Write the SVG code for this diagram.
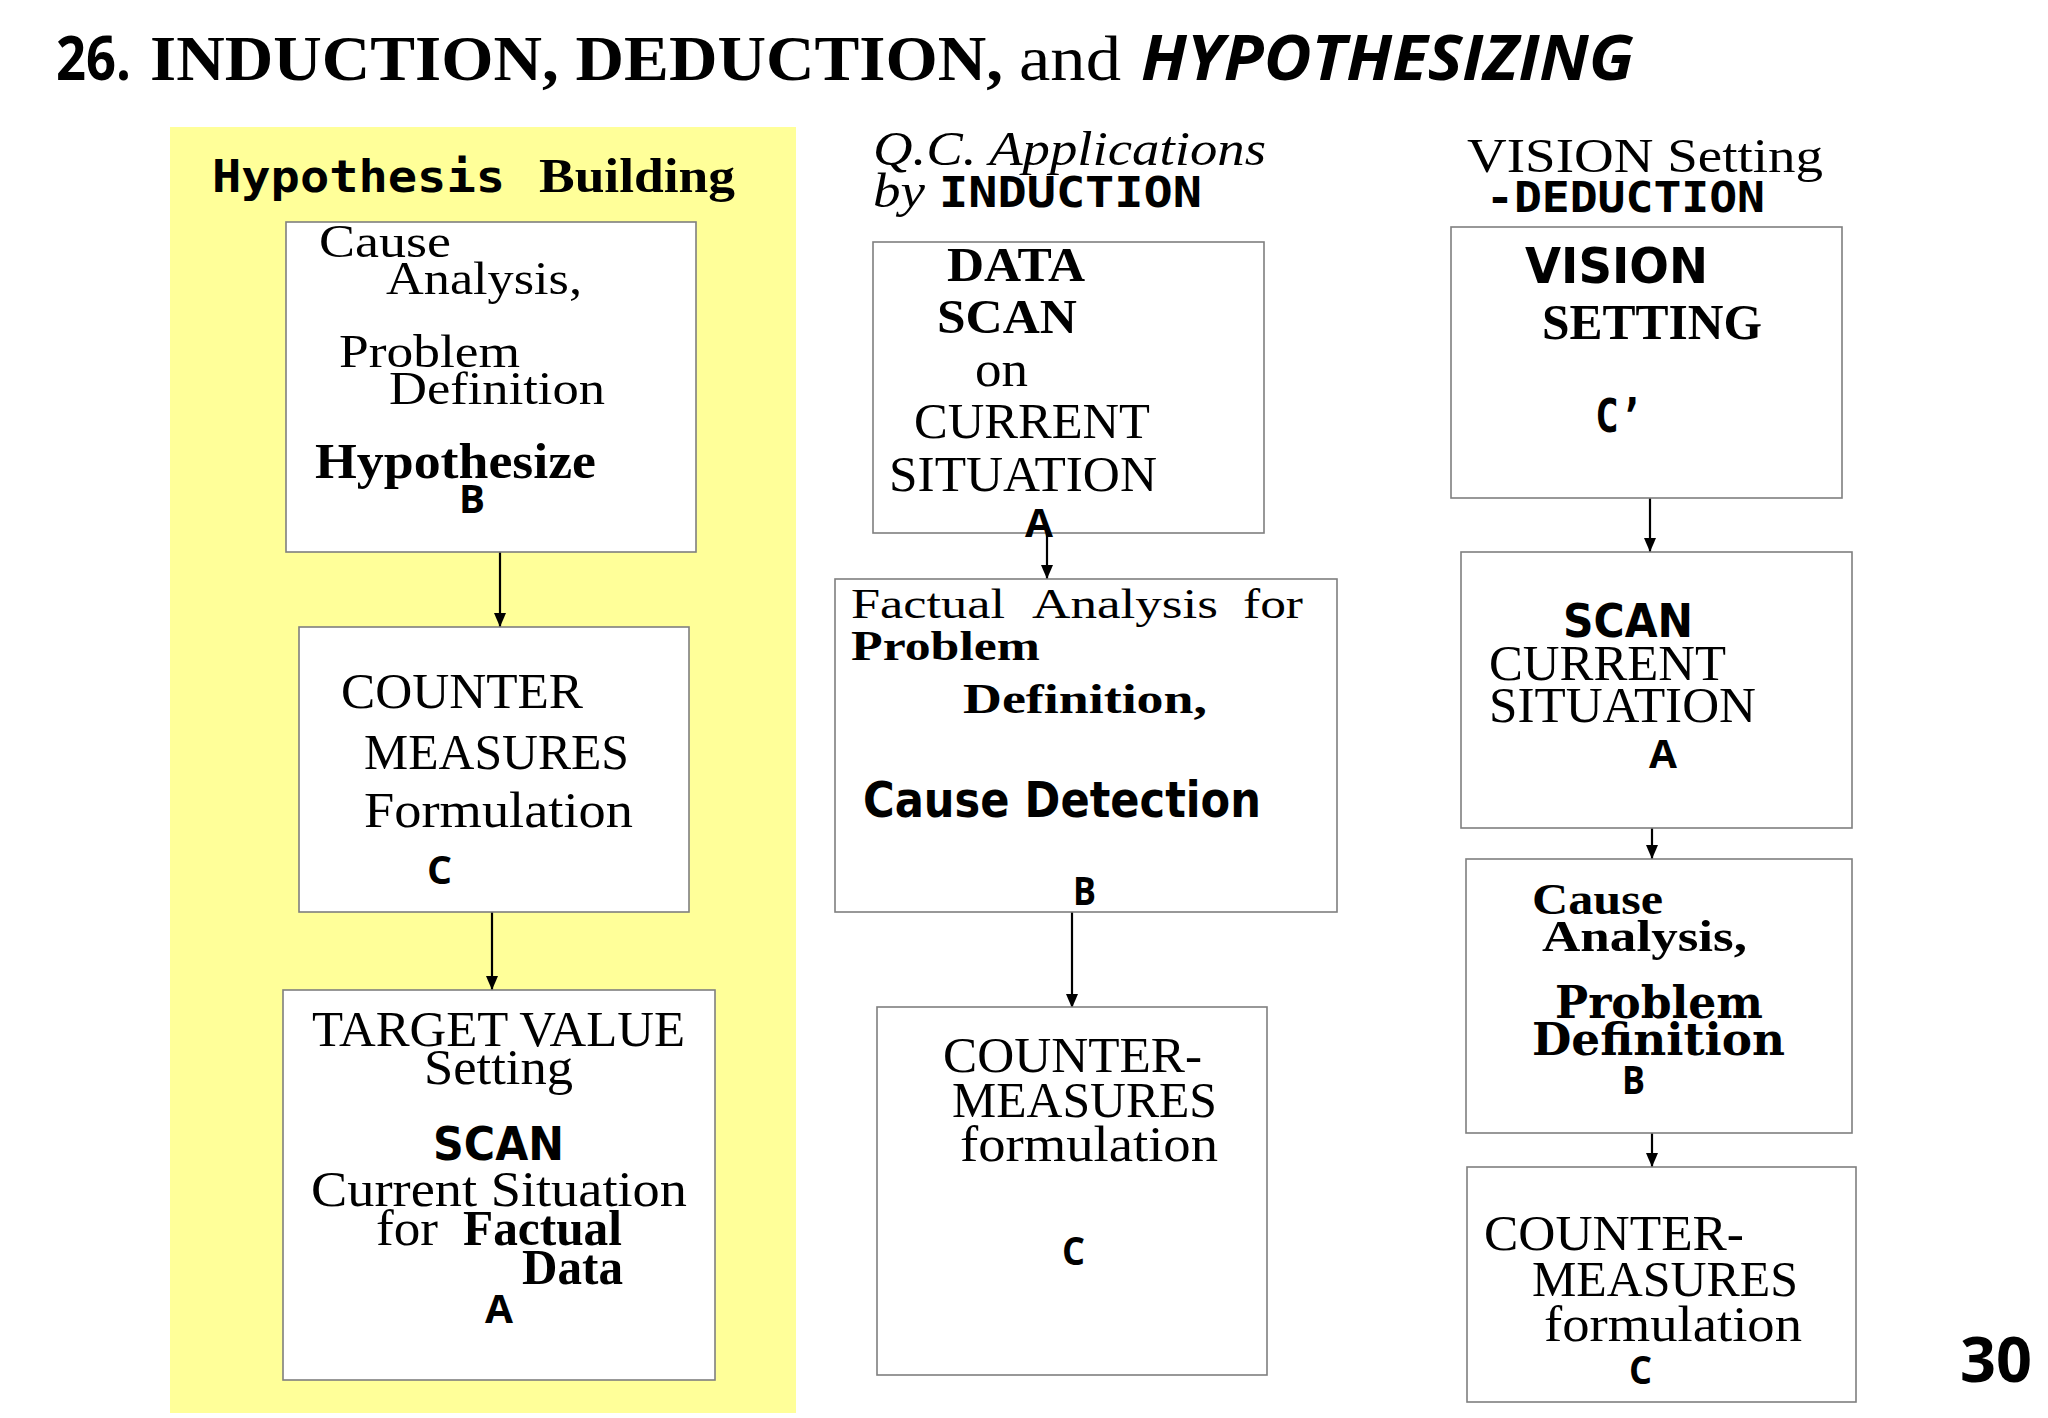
<svg xmlns="http://www.w3.org/2000/svg" width="2048" height="1418" viewBox="0 0 2048 1418">
<defs>
<style>
.box{fill:#ffffff;stroke:#7f7f7f;stroke-width:1.6}
.ln{stroke:#000;stroke-width:2.2;fill:none}
.sr{font-family:"Liberation Serif","Times New Roman",serif;font-size:50px;fill:#000}
.srb{font-family:"Liberation Serif","Times New Roman",serif;font-weight:bold;font-size:50px;fill:#000}
.sri{font-family:"Liberation Serif","Times New Roman",serif;font-style:italic;font-size:48px;fill:#000}
.hv{font-family:"DejaVu Serif","Liberation Serif",serif;font-weight:900;font-size:44px;fill:#000}
.sb{font-family:"DejaVu Sans","Liberation Sans",sans-serif;font-weight:bold;font-size:46px;fill:#000}
.os{font-family:"Open Sans","Liberation Sans",sans-serif;font-weight:bold;font-size:40px;fill:#000}
.mono{font-family:"DejaVu Sans Mono","Liberation Mono",monospace;font-weight:bold;font-size:44px;fill:#000}
</style>
<marker id="ah" viewBox="0 0 12 14" refX="6" refY="14" markerWidth="12" markerHeight="14" markerUnits="userSpaceOnUse" orient="0">
<path d="M0,0 L12,0 L6,14 z" fill="#000"/>
</marker>
</defs>
<rect width="2048" height="1418" fill="#ffffff"/>

<g id="title">
<text x="56" y="80" class="os" style="font-size:60px" textLength="75" lengthAdjust="spacingAndGlyphs">26.</text>
<text x="150" y="80" class="srb" style="font-size:64px" textLength="853" lengthAdjust="spacingAndGlyphs">INDUCTION, DEDUCTION,</text>
<text x="1019" y="80" class="sr" style="font-size:64px" textLength="102" lengthAdjust="spacingAndGlyphs">and</text>
<text x="1141" y="80" class="os" style="font-size:62px;font-style:italic" textLength="493" lengthAdjust="spacingAndGlyphs">HYPOTHESIZING</text>
</g>

<rect id="panel" x="170" y="127" width="626" height="1286" fill="#ffff99"/>

<g id="col1-header">
<text x="212" y="192" class="mono" textLength="293" lengthAdjust="spacingAndGlyphs">Hypothesis</text>
<text x="539" y="192" class="srb" style="font-size:48px" textLength="196" lengthAdjust="spacingAndGlyphs">Building</text>
</g>
<g id="col2-header">
<text x="873" y="165" class="sri" textLength="393" lengthAdjust="spacingAndGlyphs">Q.C. Applications</text>
<text x="873" y="207" class="sri" textLength="52" lengthAdjust="spacingAndGlyphs">by</text>
<text x="939" y="207" class="mono" style="font-size:42px" textLength="263" lengthAdjust="spacingAndGlyphs">INDUCTION</text>
</g>
<g id="col3-header">
<text x="1467" y="172" class="sr" style="font-size:48px" textLength="356" lengthAdjust="spacingAndGlyphs">VISION Setting</text>
<text x="1486" y="212" class="mono" style="font-size:42px" textLength="279" lengthAdjust="spacingAndGlyphs">-DEDUCTION</text>
</g>

<g id="connectors">
<line class="ln" x1="500" y1="551" x2="500" y2="627" marker-end="url(#ah)"/>
<line class="ln" x1="492" y1="912" x2="492" y2="990" marker-end="url(#ah)"/>
<line class="ln" x1="1047" y1="533" x2="1047" y2="579" marker-end="url(#ah)"/>
<line class="ln" x1="1072" y1="912" x2="1072" y2="1008" marker-end="url(#ah)"/>
<line class="ln" x1="1650" y1="498" x2="1650" y2="552" marker-end="url(#ah)"/>
<line class="ln" x1="1652" y1="828" x2="1652" y2="859" marker-end="url(#ah)"/>
<line class="ln" x1="1652" y1="1133" x2="1652" y2="1167" marker-end="url(#ah)"/>
</g>

<g id="box1">
<rect class="box" x="286" y="222" width="410" height="330"/>
<text x="319" y="257" class="sr" style="font-size:47px" textLength="132" lengthAdjust="spacingAndGlyphs">Cause</text>
<text x="386" y="294" class="sr" style="font-size:47px" textLength="196" lengthAdjust="spacingAndGlyphs">Analysis,</text>
<text x="339" y="367" class="sr" style="font-size:47px" textLength="181" lengthAdjust="spacingAndGlyphs">Problem</text>
<text x="389" y="404" class="sr" style="font-size:47px" textLength="216" lengthAdjust="spacingAndGlyphs">Definition</text>
<text x="315" y="478" class="srb" textLength="281" lengthAdjust="spacingAndGlyphs">Hypothesize</text>
<text x="459" y="513" class="os" textLength="26" lengthAdjust="spacingAndGlyphs">B</text>
</g>

<g id="box2">
<rect class="box" x="299" y="627" width="390" height="285"/>
<text x="341" y="708" class="sr" textLength="242" lengthAdjust="spacingAndGlyphs">COUNTER</text>
<text x="364" y="769" class="sr" textLength="265" lengthAdjust="spacingAndGlyphs">MEASURES</text>
<text x="364" y="827" class="sr" textLength="269" lengthAdjust="spacingAndGlyphs">Formulation</text>
<text x="427" y="884" class="os" textLength="25" lengthAdjust="spacingAndGlyphs">C</text>
</g>

<g id="box3">
<rect class="box" x="283" y="990" width="432" height="390"/>
<text x="312" y="1046" class="sr" textLength="373" lengthAdjust="spacingAndGlyphs">TARGET VALUE</text>
<text x="424" y="1084" class="sr" textLength="149" lengthAdjust="spacingAndGlyphs">Setting</text>
<text x="433" y="1160" class="sb" textLength="131" lengthAdjust="spacingAndGlyphs">SCAN</text>
<text x="311" y="1206" class="sr" textLength="376" lengthAdjust="spacingAndGlyphs">Current Situation</text>
<text x="376" y="1245" class="sr" textLength="62" lengthAdjust="spacingAndGlyphs">for</text>
<text x="463" y="1245" class="srb" textLength="159" lengthAdjust="spacingAndGlyphs">Factual</text>
<text x="522" y="1284" class="srb" textLength="101" lengthAdjust="spacingAndGlyphs">Data</text>
<text x="485" y="1323" class="os" textLength="28" lengthAdjust="spacingAndGlyphs">A</text>
</g>

<g id="box4">
<rect class="box" x="873" y="242" width="391" height="291"/>
<text x="947" y="281" class="srb" style="font-size:48px" textLength="138" lengthAdjust="spacingAndGlyphs">DATA</text>
<text x="937" y="333" class="srb" style="font-size:48px" textLength="140" lengthAdjust="spacingAndGlyphs">SCAN</text>
<text x="975" y="386" class="sr" textLength="53" lengthAdjust="spacingAndGlyphs">on</text>
<text x="914" y="438" class="sr" textLength="236" lengthAdjust="spacingAndGlyphs">CURRENT</text>
<text x="889" y="491" class="sr" textLength="268" lengthAdjust="spacingAndGlyphs">SITUATION</text>
<text x="1025" y="537" class="os" textLength="28" lengthAdjust="spacingAndGlyphs">A</text>
</g>

<g id="box5">
<rect class="box" x="835" y="579" width="502" height="333"/>
<text x="851" y="618" class="sr" style="font-size:42px" textLength="154" lengthAdjust="spacingAndGlyphs">Factual</text>
<text x="1032" y="618" class="sr" style="font-size:42px" textLength="186" lengthAdjust="spacingAndGlyphs">Analysis</text>
<text x="1243" y="618" class="sr" style="font-size:42px" textLength="60" lengthAdjust="spacingAndGlyphs">for</text>
<text x="851" y="660" class="srb" style="font-size:42px" textLength="189" lengthAdjust="spacingAndGlyphs">Problem</text>
<text x="963" y="713" class="srb" style="font-size:42px" textLength="244" lengthAdjust="spacingAndGlyphs">Definition,</text>
<text x="863" y="817" class="sb" style="font-size:49px" textLength="398" lengthAdjust="spacingAndGlyphs">Cause Detection</text>
<text x="1073" y="905" class="os" textLength="23" lengthAdjust="spacingAndGlyphs">B</text>
</g>

<g id="box6">
<rect class="box" x="877" y="1007" width="390" height="368"/>
<text x="943" y="1072" class="sr" textLength="259" lengthAdjust="spacingAndGlyphs">COUNTER-</text>
<text x="952" y="1117" class="sr" textLength="265" lengthAdjust="spacingAndGlyphs">MEASURES</text>
<text x="960" y="1161" class="sr" textLength="258" lengthAdjust="spacingAndGlyphs">formulation</text>
<text x="1062" y="1265" class="os" textLength="23" lengthAdjust="spacingAndGlyphs">C</text>
</g>

<g id="box7">
<rect class="box" x="1451" y="227" width="391" height="271"/>
<text x="1525" y="283" class="sb" style="font-size:50px" textLength="183" lengthAdjust="spacingAndGlyphs">VISION</text>
<text x="1542" y="339" class="srb" style="font-size:50px" textLength="220" lengthAdjust="spacingAndGlyphs">SETTING</text>
<text x="1595" y="432" class="mono" style="font-size:46px" textLength="48" lengthAdjust="spacingAndGlyphs">C’</text>
</g>

<g id="box8">
<rect class="box" x="1461" y="552" width="391" height="276"/>
<text x="1563" y="637" class="sb" textLength="130" lengthAdjust="spacingAndGlyphs">SCAN</text>
<text x="1489" y="680" class="sr" textLength="237" lengthAdjust="spacingAndGlyphs">CURRENT</text>
<text x="1489" y="722" class="sr" textLength="267" lengthAdjust="spacingAndGlyphs">SITUATION</text>
<text x="1649" y="768" class="os" textLength="28" lengthAdjust="spacingAndGlyphs">A</text>
</g>

<g id="box9">
<rect class="box" x="1466" y="859" width="386" height="274"/>
<text x="1532" y="914" class="srb" style="font-size:45px" textLength="131" lengthAdjust="spacingAndGlyphs">Cause</text>
<text x="1542" y="951" class="srb" style="font-size:45px" textLength="205" lengthAdjust="spacingAndGlyphs">Analysis,</text>
<text x="1555" y="1018" class="hv" textLength="208" lengthAdjust="spacingAndGlyphs">Problem</text>
<text x="1532" y="1055" class="hv" textLength="253" lengthAdjust="spacingAndGlyphs">Definition</text>
<text x="1622" y="1094" class="os" textLength="23" lengthAdjust="spacingAndGlyphs">B</text>
</g>

<g id="box10">
<rect class="box" x="1467" y="1167" width="389" height="235"/>
<text x="1484" y="1250" class="sr" textLength="260" lengthAdjust="spacingAndGlyphs">COUNTER-</text>
<text x="1532" y="1296" class="sr" textLength="266" lengthAdjust="spacingAndGlyphs">MEASURES</text>
<text x="1544" y="1341" class="sr" textLength="258" lengthAdjust="spacingAndGlyphs">formulation</text>
<text x="1629" y="1384" class="os" textLength="23" lengthAdjust="spacingAndGlyphs">C</text>
</g>

<text id="page-number" x="1960" y="1382" class="os" style="font-size:62px" textLength="72" lengthAdjust="spacingAndGlyphs">30</text>
</svg>
